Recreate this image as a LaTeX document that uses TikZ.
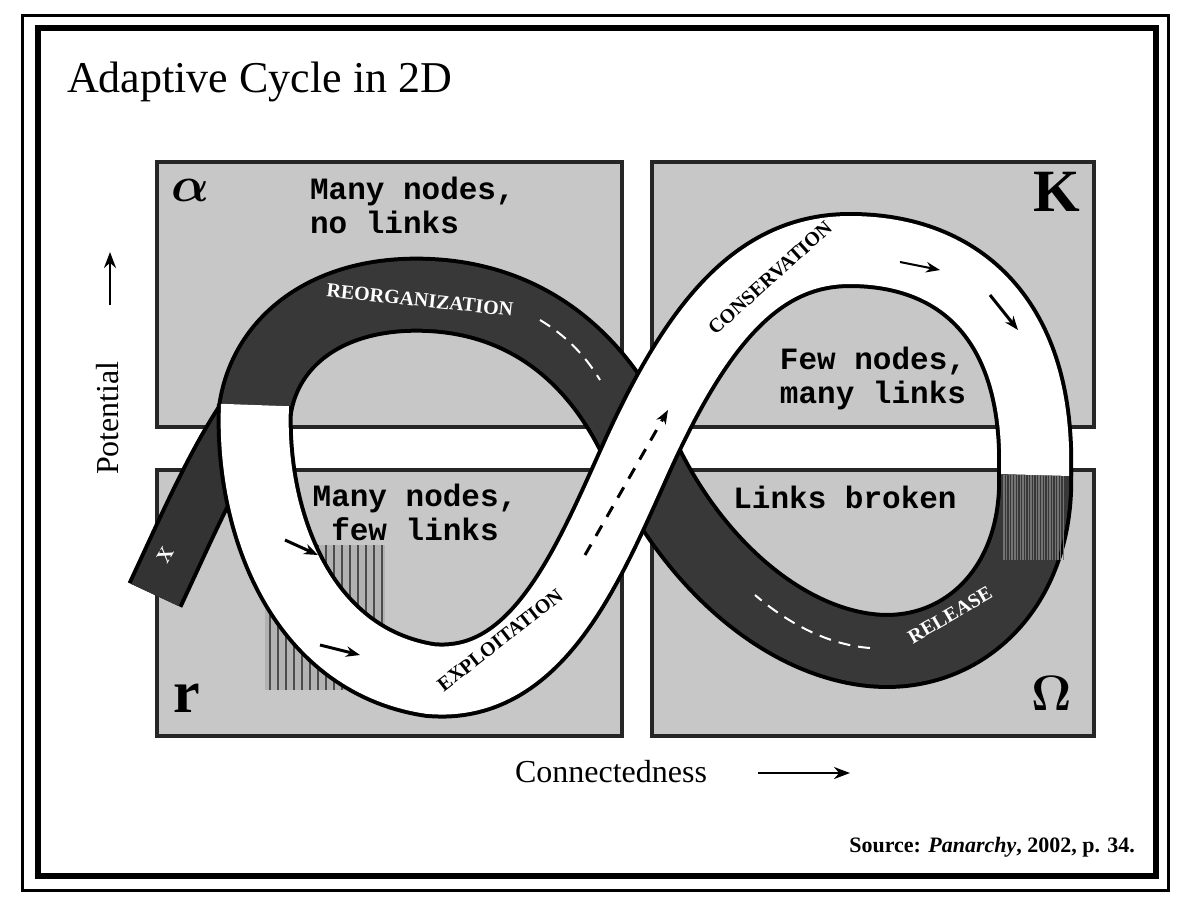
\documentclass[tikz,border=0pt]{standalone}
\usepackage{amsmath}
\usepackage{fontspec}
\setmainfont{Liberation Serif}
\setmonofont{Liberation Mono}
\usetikzlibrary{arrows.meta}
\begin{document}
\begin{tikzpicture}[x=0.5pt,y=-0.5pt,
  box/.style={draw=black!85,line width=2pt,fill=black!22},
  corner/.style={font=\bfseries\fontsize{30}{30}\selectfont},
  btxt/.style={font=\ttfamily\bfseries\fontsize{15.5}{17}\selectfont,align=left},
  rib/.style={font=\bfseries\fontsize{10}{10}\selectfont,inner sep=1pt},
  axis/.style={font=\fontsize{16}{16}\selectfont}]
\useasboundingbox (0,0) rectangle (1184,902);
\fill[white] (0,0) rectangle (1184,902);
\draw[line width=1.5pt] (22,15) rectangle (1168,890);
\draw[line width=3pt] (38,28) rectangle (1156,876);
\node[anchor=base west,font=\fontsize{22}{22}\selectfont] (title) at (60,92) {Adaptive Cycle in 2D};
% boxes
\node[box,minimum width=232.5pt,minimum height=132.5pt,anchor=north west] (tl) at (155,160) {};
\node[box,minimum width=221pt,minimum height=132.5pt,anchor=north west] (tr) at (650,160) {};
\node[box,minimum width=232.5pt,minimum height=133pt,anchor=north west] (bl) at (155,468) {};
\node[box,minimum width=221pt,minimum height=133pt,anchor=north west] (br) at (650,468) {};
\node[corner] (alpha) at (190,190) {$\boldsymbol{\alpha}$};
\node[corner] (K) at (1057,192) {K};
\node[corner] (r) at (187,698) {r};
\node[corner] (Om) at (1052,693) {$\boldsymbol{\Omega}$};
% tail X
\draw[line width=30pt,black] (155,595) .. controls (190,520) and (220,450) .. (258,400);
\draw[line width=26pt,black!80] (155,595) .. controls (190,520) and (220,450) .. (258,400);
\node[rib,white,rotate=60] (X) at (165,555) {X};
% hatched side
\fill[black!30] (265,545) rectangle (385,690);
\foreach \x in {270,278,...,382} \draw[black!70,line width=0.8pt] (\x,545) -- (\x,690);
% dark segment
\draw[line width=38pt,black,line cap=butt] (1035,470) .. controls (1040,590) and (960,660) .. (870,650)
  .. controls (780,640) and (690,560) .. (640,450)
  .. controls (600,360) and (530,300) .. (430,295)
  .. controls (330,290) and (265,340) .. (255,410);
\draw[line width=34pt,black!78,line cap=butt] (1035,470) .. controls (1040,590) and (960,660) .. (870,650)
  .. controls (780,640) and (690,560) .. (640,450)
  .. controls (600,360) and (530,300) .. (430,295)
  .. controls (330,290) and (265,340) .. (255,410);
\draw[white,line width=1pt,dash pattern=on 6pt off 4pt] (870,648) .. controls (830,645) and (790,625) .. (755,595);
\draw[white,line width=1pt,dash pattern=on 6pt off 4pt] (540,320) .. controls (565,335) and (585,355) .. (600,380);
% hatched right side
\foreach \y in {0,1,...,22} \draw[black!55,line width=0.7pt] (1004+2.7*\y,475) -- (1004+2.7*\y,560);
% white segment
\draw[line width=38pt,black,line cap=butt] (255,405) .. controls (250,520) and (300,660) .. (430,680)
  .. controls (540,690) and (590,560) .. (640,450)
  .. controls (700,320) and (760,250) .. (850,250)
  .. controls (960,250) and (1040,320) .. (1035,475);
\draw[line width=34pt,white,line cap=butt] (255,405) .. controls (250,520) and (300,660) .. (430,680)
  .. controls (540,690) and (590,560) .. (640,450)
  .. controls (700,320) and (760,250) .. (850,250)
  .. controls (960,250) and (1040,320) .. (1035,475);
\draw[-{Stealth[length=7pt]},line width=1.5pt,dash pattern=on 6pt off 5pt] (585,555) -- (668,410);
\draw[-{Stealth[length=7pt]},line width=1.5pt] (285,540) -- (318,555);
\draw[-{Stealth[length=7pt]},line width=1.5pt] (320,645) -- (360,655);
\draw[-{Stealth[length=7pt]},line width=1.5pt] (990,295) -- (1018,330);
\draw[-{Stealth[length=7pt]},line width=1pt] (900,262) -- (940,270);
% ribbon labels
\node[rib,white,rotate=-6] (reorg) at (420,300) {REORGANIZATION};
\node[rib,rotate=42] (cons) at (770,278) {CONSERVATION};
\node[rib,rotate=38] (expl) at (500,640) {EXPLOITATION};
\node[rib,white,rotate=30] (rel) at (950,615) {RELEASE};
% box texts
\node[btxt,anchor=north west] (t1) at (303,170) {Many nodes,\\no links};
\node[btxt,align=center] (t2) at (873,378) {Few nodes,\\many links};
\node[btxt,align=center] (t3) at (415,512) {Many nodes,\\few links};
\node[btxt] (t4) at (845,497) {Links broken};
% axes
\node[axis,rotate=90] (pot) at (108,418) {Potential};
\coordinate (pa) at (110,305); \coordinate (pb) at (110,252);
\draw[-{Stealth[length=8pt]},line width=1.2pt] (pa) -- (pb);
\node[axis,anchor=west] (con) at (508,772) {Connectedness};
\coordinate (ca) at (758,773); \coordinate (cb) at (850,773);
\draw[-{Stealth[length=8pt]},line width=1.2pt] (ca) -- (cb);
\node[anchor=base east,font=\bfseries\fontsize{11}{11}\selectfont] (src) at (1142,852) {Source: \textit{Panarchy}, 2002, p. 34.};
\end{tikzpicture}
\end{document}
